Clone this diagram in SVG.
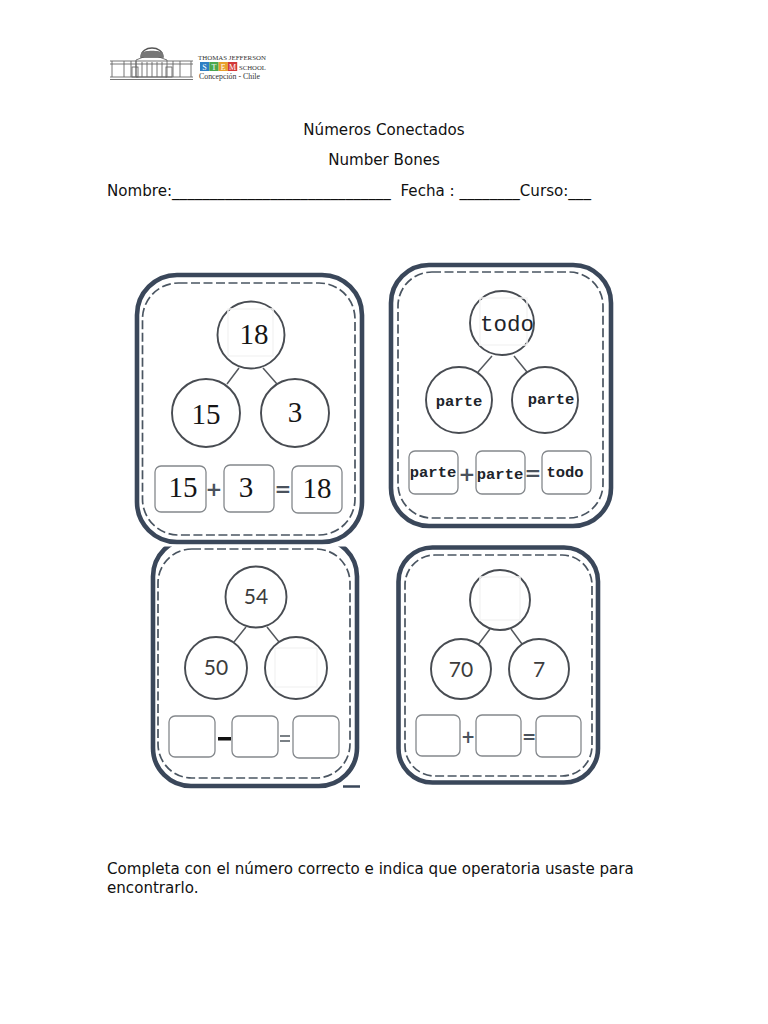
<svg xmlns="http://www.w3.org/2000/svg" width="768" height="1024" viewBox="0 0 768 1024">
<style>
.t{font-family:"DejaVu Sans",sans-serif;font-size:15.1px;fill:#111;white-space:pre}
.outer{fill:#fff;stroke:#3a475a;stroke-width:4.600}
.dash{fill:none;stroke:#4a5561;stroke-width:1.700;stroke-dasharray:9 3.500}
.c{fill:#fff;stroke:#484c52;stroke-width:1.900}
.b{fill:#fff;stroke:#84888c;stroke-width:1.300}
.f{fill:none;stroke:#f5f5f5;stroke-width:1.500}
.l{stroke:#55595e;stroke-width:1.500;fill:none}
.op{font-family:"DejaVu Sans",sans-serif;font-weight:bold;fill:#4a525c;text-anchor:middle}
.n{font-family:"Liberation Serif",serif;fill:#151515;text-anchor:middle}
.p{font-family:"Liberation Mono",monospace;font-weight:bold;fill:#20242a;text-anchor:middle}
.td{font-family:"Liberation Mono",monospace;fill:#20242a;text-anchor:middle}
.h{font-family:"Lato",sans-serif;fill:#3c3c3c;text-anchor:middle}
.lg{font-family:"Liberation Serif",serif;fill:#333}
.bd{fill:none;stroke:#666;stroke-width:.9}
</style>
<defs><clipPath id="belowCard"><rect x="140" y="546.500" width="230" height="250"/></clipPath></defs>
<rect width="768" height="1024" fill="#fff"/>

<g id="logo">
<path class="bd" d="M110 61H193M110 64H193M110 77H193M110 79.500H193M112 61V77M191 61V77M124 61V77M131 61V77M136 61V77M173 61V77M180 61V77"/>
<path class="bd" d="M136 60L151 54L167 60V77H136ZM142 62V77M147 62V77M152 62V77M157 62V77M162 62V77"/>
<path d="M141 57C141 45 163 45 163 57Z" fill="none" stroke="#555" stroke-width="1.500"/>
<path d="M141 53C144 50 160 50 163 53V57H141Z" fill="#777"/>
<rect x="132" y="67" width="6" height="10" class="bd"/><rect x="166" y="67" width="6" height="10" class="bd"/>
<text class="lg" x="198" y="59.500" font-size="6.800" textLength="68" lengthAdjust="spacingAndGlyphs">THOMAS JEFFERSON</text>
<rect x="200" y="62" width="9.300" height="9" fill="#2f7fc4"/><rect x="209.300" y="62" width="9.300" height="9" fill="#4aa84f"/><rect x="218.600" y="62" width="9.300" height="9" fill="#e8a02c"/><rect x="227.900" y="62" width="9.300" height="9" fill="#d2393a"/>
<text x="204.600" y="69.500" font-family="Liberation Serif,serif" font-size="8" fill="#fff" text-anchor="middle">S</text><text x="214" y="69.500" font-family="Liberation Serif,serif" font-size="8" fill="#fff" text-anchor="middle">T</text><text x="223.200" y="69.500" font-family="Liberation Serif,serif" font-size="8" fill="#fff" text-anchor="middle">E</text><text x="232.500" y="69.500" font-family="Liberation Serif,serif" font-size="8" fill="#fff" text-anchor="middle">M</text>
<text class="lg" x="239" y="69.500" font-size="6.800" textLength="27" lengthAdjust="spacingAndGlyphs">SCHOOL</text>
<text class="lg" x="199" y="79" font-size="7.500" textLength="61" lengthAdjust="spacingAndGlyphs">Concepción - Chile</text>
</g>

<g id="heading">
<text class="t" x="384" y="135" text-anchor="middle">Números Conectados</text>
<text class="t" x="384" y="165" text-anchor="middle">Number Bones</text>
<text class="t" x="107" y="196">Nombre:_____________________________  Fecha : ________Curso:___</text>
</g>

<g id="card3">
<g clip-path="url(#belowCard)"><rect class="outer" x="153" y="538.500" width="204" height="247.500" rx="38"/></g>
<rect class="dash" x="158" y="549" width="192" height="229" rx="34"/>
<path d="M343 786.500H360" stroke="#3a475a" stroke-width="2.500"/>
</g>
<g id="card1">
<rect class="outer" x="137" y="275" width="225" height="267" rx="40"/>
<rect class="dash" x="142.500" y="283" width="212.500" height="252" rx="36"/>
</g>
<g id="card2">
<rect class="outer" x="391" y="265" width="220" height="261" rx="38"/>
<rect class="dash" x="398" y="272" width="205" height="246" rx="34"/>
</g>
<g id="card4">
<rect class="outer" x="398.500" y="547.500" width="199.500" height="235" rx="34"/>
<rect class="dash" x="405" y="555" width="187" height="221" rx="30"/>
</g>

<g id="connectors">
<path class="l" d="M239 368L227 384M263 368L277 384M492 356L478 372M514 356L527 372M246 627L234 642M267 627L279 642M490 629L478 645M511 629L522 644"/>
</g>

<g id="c1-top"><circle class="c" cx="251" cy="335" r="33.500"/><rect class="f" x="228" y="309" width="45" height="47"/><text class="n" x="254" y="344" font-size="29">18</text></g>
<g id="c1-left"><circle class="c" cx="206" cy="413" r="34"/><text class="n" x="206" y="424" font-size="29">15</text></g>
<g id="c1-right"><circle class="c" cx="295" cy="413" r="34"/><text class="n" x="295" y="422" font-size="29">3</text></g>
<g id="c1-b1"><rect class="b" x="155" y="466" width="51" height="46" rx="6"/><text class="n" x="183" y="497" font-size="29">15</text></g>
<g id="c1-plus"><text class="op" x="214" y="496" font-size="20">+</text></g>
<g id="c1-b2"><rect class="b" x="224" y="465" width="50" height="47" rx="6"/><text class="n" x="246" y="497" font-size="29">3</text></g>
<g id="c1-eq"><text class="op" x="283" y="496" font-size="20">=</text></g>
<g id="c1-b3"><rect class="b" x="292" y="466" width="50" height="47" rx="6"/><text class="n" x="317" y="498" font-size="29">18</text></g>

<g id="c2-top"><circle class="c" cx="502" cy="323" r="32"/><rect class="f" x="480" y="298" width="47" height="47"/><text class="td" x="507" y="331" font-size="22.500">todo</text></g>
<g id="c2-left"><circle class="c" cx="459" cy="400" r="33"/><text class="p" x="459" y="406" font-size="15.500">parte</text></g>
<g id="c2-right"><circle class="c" cx="545" cy="400" r="33"/><text class="p" x="551" y="404" font-size="15.500">parte</text></g>
<g id="c2-b1"><rect class="b" x="409" y="451" width="49" height="43" rx="6"/><text class="p" x="433" y="477" font-size="15.500">parte</text></g>
<g id="c2-plus"><text class="op" x="467" y="481" font-size="20">+</text></g>
<g id="c2-b2"><rect class="b" x="476" y="451" width="49" height="43" rx="6"/><text class="p" x="500" y="479" font-size="15.500">parte</text></g>
<g id="c2-eq"><text class="op" x="533" y="480" font-size="20">=</text></g>
<g id="c2-b3"><rect class="b" x="542" y="451" width="49" height="43" rx="6"/><text class="p" x="565" y="477" font-size="15.500">todo</text></g>

<g id="c3-top"><circle class="c" cx="256" cy="597" r="30.500"/><text class="h" x="256" y="604" font-size="21">54</text></g>
<g id="c3-left"><circle class="c" cx="216" cy="668" r="31"/><text class="h" x="216" y="675" font-size="21">50</text></g>
<g id="c3-right"><circle class="c" cx="296" cy="668" r="31"/><rect class="f" x="275" y="648" width="42" height="39"/></g>
<g id="c3-b1"><rect class="b" x="169" y="716" width="46" height="41" rx="6"/></g>
<g id="c3-minus"><rect x="218" y="737" width="13" height="3.500" fill="#111"/></g>
<g id="c3-b2"><rect class="b" x="232" y="716" width="46" height="41" rx="6"/></g>
<g id="c3-eq"><path d="M280 736H290M280 741H290" stroke="#7a8086" stroke-width="1.800"/></g>
<g id="c3-b3"><rect class="b" x="293" y="716" width="46" height="42" rx="6"/></g>

<g id="c4-top"><circle class="c" cx="500" cy="600" r="30"/><rect class="f" x="480" y="577" width="40" height="43"/></g>
<g id="c4-left"><circle class="c" cx="461" cy="669" r="30"/><text class="h" x="461" y="677" font-size="21">70</text></g>
<g id="c4-right"><circle class="c" cx="539" cy="669" r="30"/><text class="h" x="539" y="677" font-size="21">7</text></g>
<g id="c4-b1"><rect class="b" x="416" y="715" width="44" height="41" rx="6"/></g>
<g id="c4-plus"><text class="op" x="468" y="743" font-size="17">+</text></g>
<g id="c4-b2"><rect class="b" x="476" y="715" width="45" height="41" rx="6"/></g>
<g id="c4-eq"><text class="op" x="529" y="743" font-size="17">=</text></g>
<g id="c4-b3"><rect class="b" x="536" y="716" width="45" height="41" rx="6"/></g>

<g id="instructions">
<text class="t" x="107" y="874">Completa con el número correcto e indica que operatoria usaste para</text>
<text class="t" x="107" y="893">encontrarlo.</text>
</g>
</svg>
